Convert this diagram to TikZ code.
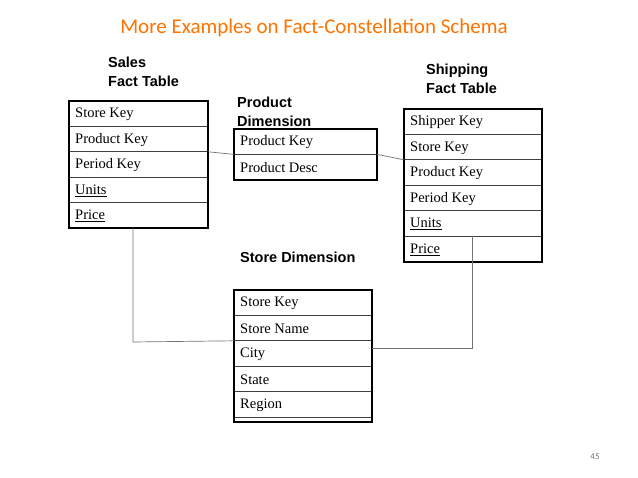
\documentclass[tikz,border=0pt]{standalone}
\usepackage{fontspec}
\setmainfont{Liberation Serif}
\newfontfamily\lab{Liberation Sans}
\newfontfamily\ttl{Carlito}
\begin{document}
\begin{tikzpicture}[x=1pt,y=-1pt,
  cell/.style={draw=black!75,line width=0.7pt,anchor=north west,inner sep=0pt,outer sep=0pt,
    minimum height=#1,font=\fontsize{14.5}{16}\selectfont,align=left,text depth=0pt},
  lbl/.style={font=\lab\bfseries\fontsize{14.5}{19}\selectfont,align=left,anchor=north west,inner sep=0pt},
  conn/.style={draw=black!55,line width=0.7pt},
  frame/.style={line width=1.6pt}]
\useasboundingbox (0,0) rectangle (638,478);
\node[font=\ttl\fontsize{21}{24}\selectfont,text=orange!90!red] (title) at (314,28) {More Examples on Fact-Constellation Schema};
\node[font=\ttl\fontsize{9}{10}\selectfont,text=black!55] (pg) at (595,457) {45};
% helper macro to build tables
\newcommand\mytab[5]{% name, x, y, w, list
  \foreach \t [count=\i from 0] in {#5} {
    \node[cell=25.4pt,minimum width=#4pt] (#1\i) at (#2,#3+\i*25.4) {};
    \node[anchor=west,inner sep=0pt,font=\fontsize{14.5}{16}\selectfont] at (#2+6,#3+\i*25.4+13.5) {\t};
  }
}
\mytab{s}{69}{101}{139}{Store Key,Product Key,Period Key,\underline{Units},\underline{Price}}
\draw[frame] (69,101) rectangle (208,228);
\mytab{p}{234}{129}{143}{Product Key,Product Desc}
\draw[frame] (234,129) rectangle (377,180);
\mytab{h}{404}{109}{138}{Shipper Key,Store Key,Product Key,Period Key,\underline{Units},\underline{Price}}
\draw[frame] (404,109) rectangle (542,262);
\mytab{d}{234}{290}{138}{Store Key,Store Name,City,State,Region}
\draw[frame] (234,290) rectangle (372,422);
\node[lbl] (ls) at (108,57) {Sales\\Fact Table};
\node[lbl] (lh) at (426,64) {Shipping\\Fact Table};
\node[lbl] (lp) at (237,97) {Product\\Dimension};
\node[lbl] (ld) at (240,252) {Store Dimension};
% connectors
\coordinate (c1) at (133,342);
\coordinate (c2) at (472,348);
\draw[conn] (s1.south east) -- (p0.south west);
\draw[conn] (p0.south east) -- (h1.south west);
\draw[conn] (133,228) -- (c1) -- (d2.north west);
\draw[conn] (472,236) -- (c2) -- (372,348);
\end{tikzpicture}
\end{document}
